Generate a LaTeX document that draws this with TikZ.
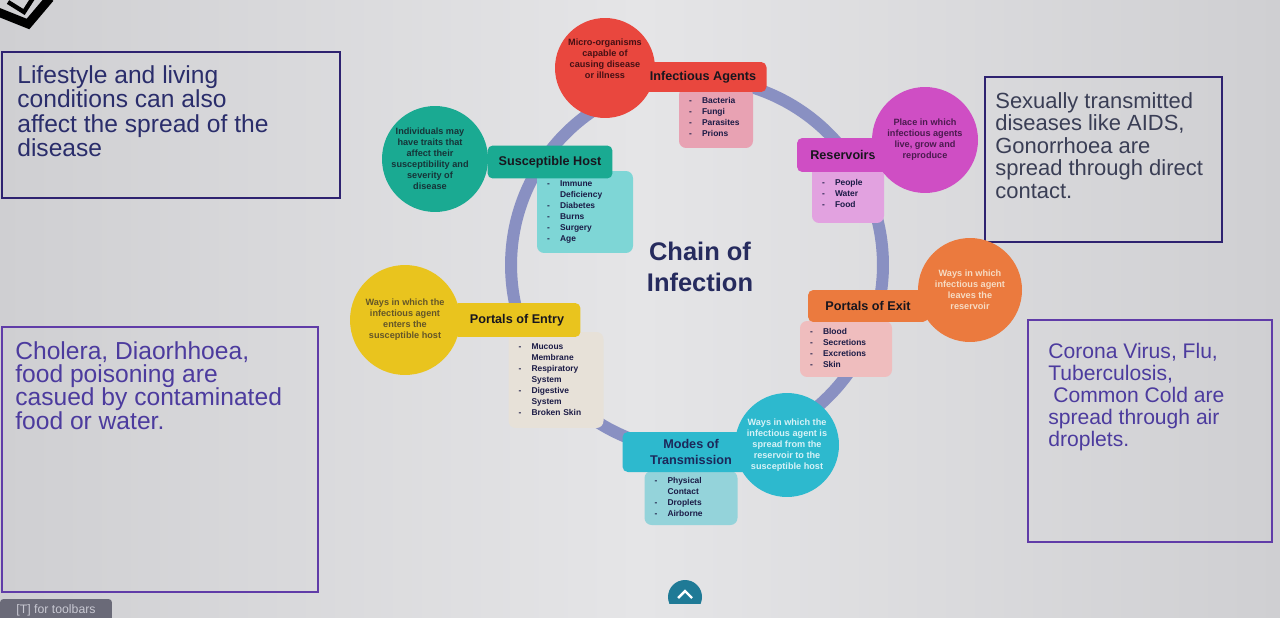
\documentclass[tikz,border=0pt]{standalone}
\usepackage{fontspec}
\setmainfont{Liberation Sans}
\usetikzlibrary{positioning}

\definecolor{bgedge}{RGB}{207,207,210}
\definecolor{bgmid}{RGB}{229,229,231}
\definecolor{ringblue}{RGB}{137,144,194}
\definecolor{chaintext}{RGB}{38,43,94}
\definecolor{labeltext}{RGB}{24,22,30}
\definecolor{itemtext}{RGB}{27,27,70}
\definecolor{agtred}{RGB}{233,71,62}
\definecolor{agtlist}{RGB}{232,162,179}
\definecolor{agttext}{RGB}{70,16,20}
\definecolor{hostteal}{RGB}{26,170,146}
\definecolor{hostlist}{RGB}{126,214,214}
\definecolor{hosttext}{RGB}{22,52,56}
\definecolor{resmag}{RGB}{207,78,196}
\definecolor{reslist}{RGB}{226,162,224}
\definecolor{restext}{RGB}{75,26,79}
\definecolor{exitorg}{RGB}{235,122,62}
\definecolor{exitlist}{RGB}{239,189,190}
\definecolor{exittext}{RGB}{246,220,196}
\definecolor{modecyan}{RGB}{45,185,206}
\definecolor{modelist}{RGB}{148,211,218}
\definecolor{modetext}{RGB}{214,242,247}
\definecolor{modelabel}{RGB}{28,40,90}
\definecolor{entryyel}{RGB}{233,196,30}
\definecolor{entrylist}{RGB}{231,225,216}
\definecolor{entrytext}{RGB}{100,86,40}
\definecolor{boxnavy}{RGB}{46,34,112}
\definecolor{boxpurple}{RGB}{96,60,168}
\definecolor{navytext}{RGB}{42,45,107}
\definecolor{purpletext}{RGB}{76,59,158}
\definecolor{graytext}{RGB}{58,62,85}
\definecolor{tipgray}{RGB}{106,106,120}
\definecolor{tiptext}{RGB}{200,200,210}
\definecolor{btnteal}{RGB}{31,122,150}
\newcommand{\bulletrows}[1]{\begin{tabular}{@{}p{0.26cm}@{}l@{}}#1\end{tabular}}

\begin{document}
\begin{tikzpicture}[
  x=0.02cm, y=-0.02cm,
  sidebox/.style={draw, line width=1.6pt},
  sidetext/.style={anchor=north west, align=left, inner sep=0pt},
  circfill/.style={circle, inner sep=0pt},
  circtext/.style={align=center, inner sep=0pt, font=\fontsize{5.2}{6.3}\selectfont\bfseries},
  stagelabel/.style={rectangle, rounded corners=3pt, inner sep=0pt, align=center, font=\fontsize{7.2}{9.6}\selectfont\bfseries, text=labeltext},
  listbox/.style={rectangle, rounded corners=4pt, inner xsep=0.2cm, inner ysep=0pt, align=left, font=\fontsize{4.8}{6.3}\selectfont\bfseries, text=itemtext},
]

\shade[left color=bgedge, right color=bgedge, middle color=bgmid] (0,0) rectangle (1280,618);
\useasboundingbox (0,0) rectangle (1280,618);

\draw[line width=5pt] (-2,12) -- (28,24) -- (50,-2);
\draw[line width=2.5pt] (8,2) -- (24,12) -- (33,-2);

\draw[sidebox, draw=boxnavy] (2,52) rectangle (340,198);
\node[sidetext, text=navytext, font=\fontsize{14}{13.9}\selectfont] (life-txt) at (17,65) {Lifestyle and living\\conditions can also\\affect the spread of the\\disease};
\draw[sidebox, draw=boxpurple] (2,327) rectangle (318,592);
\node[sidetext, text=purpletext, font=\fontsize{14}{13.3}\selectfont] (food-txt) at (15,341) {Cholera, Diaorhhoea,\\food poisoning are\\casued by contaminated\\food or water.};
\draw[sidebox, draw=boxnavy] (985,77) rectangle (1222,242);
\node[sidetext, text=graytext, font=\fontsize{12.5}{12.8}\selectfont] (sex-txt) at (995,92) {Sexually transmitted\\diseases like AIDS,\\Gonorrhoea are\\spread through direct\\contact.};
\draw[sidebox, draw=boxpurple] (1028,320) rectangle (1272,542);
\node[sidetext, text=purpletext, font=\fontsize{12}{12.5}\selectfont] (air-txt) at (1048,343) {Corona Virus, Flu,\\Tuberculosis,\\\hspace{0.1cm}Common Cold are\\spread through air\\droplets.};

\draw[ringblue, line width=0.24cm] (697,265) circle[radius=3.72cm];
\node[font=\fontsize{14.5}{17.6}\selectfont\bfseries, text=chaintext, align=center] (chain) at (700,267) {Chain of\\Infection};

\node[circfill, fill=agtred, minimum size=2cm] (agt-circ) at (605,68) {};
\node[circtext, text=agttext] (agt-desc) at ([yshift=0.18cm]agt-circ.center) {Micro-organisms\\capable of\\causing disease\\or illness};
\node[circfill, fill=hostteal, minimum size=2.12cm] (host-circ) at (435,159) {};
\node[circtext, text=hosttext] (host-desc) at ([xshift=-0.1cm]host-circ.center) {Individuals may\\have traits that\\affect their\\susceptibility and\\severity of\\disease};
\node[circfill, fill=entryyel, minimum size=2.2cm] (entry-circ) at (405,320) {};
\node[circtext, text=entrytext] (entry-desc) at (entry-circ.center) {Ways in which the\\infectious agent\\enters the\\susceptible host};

\node[listbox, fill=agtlist, text width=1.08cm, minimum height=1.2cm] (agt-list) at (716,118) {\bulletrows{-&Bacteria\\-&Fungi\\-&Parasites\\-&Prions}};
\node[listbox, fill=hostlist, text width=1.52cm, minimum height=1.64cm] (host-list) at (585,212) {\bulletrows{-&Immune\\&Deficiency\\-&Diabetes\\-&Burns\\-&Surgery\\-&Age}};
\node[listbox, fill=reslist, text width=1.04cm, minimum height=1.16cm] (res-list) at (848,194) {\bulletrows{-&People\\-&Water\\-&Food}};
\node[listbox, fill=exitlist, text width=1.44cm, minimum height=1.12cm] (exit-list) at (846,349) {\bulletrows{-&Blood\\-&Secretions\\-&Excretions\\-&Skin}};
\node[listbox, fill=modelist, text width=1.46cm, minimum height=1.08cm] (mode-list) at (691,498) {\bulletrows{-&Physical\\&Contact\\-&Droplets\\-&Airborne}};
\node[listbox, fill=entrylist, text width=1.5cm, minimum height=1.92cm] (entry-list) at (556,380) {\bulletrows{-&Mucous\\&Membrane\\-&Respiratory\\&System\\-&Digestive\\&System\\-&Broken Skin}};

\node[stagelabel, fill=agtred, minimum width=2.54cm, minimum height=0.6cm] (agt-label) at (703,77) {Infectious Agents};
\node[stagelabel, fill=hostteal, minimum width=2.5cm, minimum height=0.66cm] (host-label) at (550,162) {Susceptible Host};
\node[stagelabel, fill=resmag, minimum width=1.84cm, minimum height=0.68cm] (res-label) at (843,155) {Reservoirs};
\node[stagelabel, fill=exitorg, minimum width=2.4cm, minimum height=0.64cm] (exit-label) at (868,306) {Portals of Exit};
\node[stagelabel, fill=modecyan, text=modelabel, minimum width=2.74cm, minimum height=0.8cm] (mode-label) at (691,452) {Modes of\\Transmission};
\node[stagelabel, fill=entryyel, minimum width=2.54cm, minimum height=0.68cm] (entry-label) at (517,320) {Portals of Entry};

\node[circfill, fill=resmag, minimum size=2.12cm] (res-circ) at (925,140) {};
\node[circtext, text=restext] (res-desc) at (res-circ.center) {Place in which\\infectious agents\\live, grow and\\reproduce};
\node[circfill, fill=exitorg, minimum size=2.08cm] (exit-circ) at (970,290) {};
\node[circtext, text=exittext] (exit-desc) at (exit-circ.center) {Ways in which\\infectious agent\\leaves the\\reservoir};
\node[circfill, fill=modecyan, minimum size=2.08cm] (mode-circ) at (787,445) {};
\node[circtext, text=modetext] (mode-desc) at (mode-circ.center) {Ways in which the\\infectious agent is\\spread from the\\reservoir to the\\susceptible host};

\node[fill=tipgray, rounded corners=2pt, text=tiptext, font=\fontsize{7}{8}\selectfont, minimum width=2.24cm, minimum height=0.44cm, inner sep=0pt] (tool-tip) at (56,610) {[T] for toolbars};
\begin{scope}
  \clip (650,560) rectangle (730,603);
  \fill[btnteal] (685,597) circle[radius=0.34cm];
\end{scope}
\draw[white, line width=1.4pt] (678,598) -- (685,591) -- (692,598);

\end{tikzpicture}
\end{document}
